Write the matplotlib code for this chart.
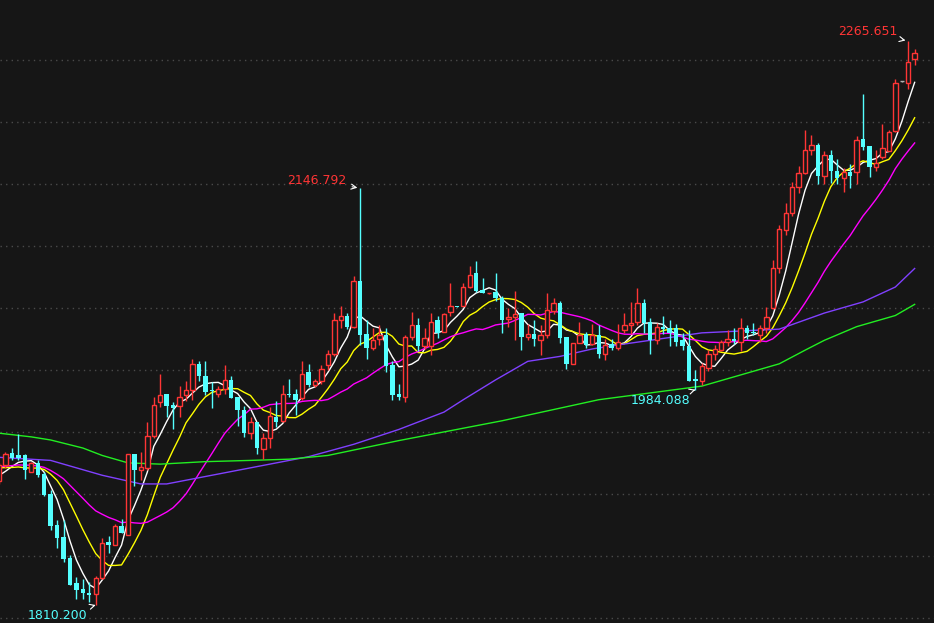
import numpy as np, pandas as pd, matplotlib; matplotlib.use('Agg')
import matplotlib.pyplot as plt

# OHLC, candle 0 = leftmost
opens = [1910,1923,1933,1931,1931,1918,1925,1916,1900,1875,1865,1848,1828,1823,1820,1819,1832,1861,1859,1874,
         1867,1932,1919,1921,1947,1974,1981,1972,1971,1980,1984,2005,1995,1984,1981,1985,1992,1978,1968,1949,
         1958,1936,1945,1962,1959,1980.5,1981,1977,1998,1988,1991,2004,2013,2040,2044,2035,2072,2029,2018,2025,
         2028,2004,1981,1978,2027,2036,2019,2019,2040,2031,2047,2052,2052,2067,2078,2065,2061.8,2063,2058,2041,
         2043,2046,2027,2029,2024,2028,2048,2054,2027,2005,2022,2029,2021,2028,2013,2021,2018,2032,2036,2039,
         2054,2039,2024,2035,2034,2034,2024,2019,1993,1991,2001.3,2013,2016,2023,2025,2023,2034,2031,2028,2034,
         2050,2082,2113,2127,2148,2159,2178,2182,2157,2173.6,2161,2155,2160,2160,2186.5,2181,2163.6,2172,2177,2193,
         2233,2231.5,2251]
highs = [1925,1934,1937,1948,1932,1926,1927,1918,1903,1879,1879,1851,1833,1831,1829,1834,1864,1866,1876,1880,
         1932,1932,1934,1958,1978,1997,1981,1974,1987,1991,2009,2007,2007,1990,1987,2004,1995,1978,1971,1962,
         1958,1949,1970,1975,1988,1993,1985,2007,2005,1993,2004,2016,2046,2052,2046,2076,2146.792,2040,2034,2036,
         2034,2007,1989,2028,2047,2042,2034,2046,2044,2046,2070,2052,2070,2084,2088,2074,2062.5,2078,2060,2050,
         2064,2046,2037,2040,2036,2062,2058,2056,2027,2022,2039,2031,2037,2036,2025,2025,2037,2046,2055,2066,
         2057,2042,2038,2044,2040,2037,2030,2032,2000,2006,2016,2020,2024,2032,2034,2042,2036,2038,2036,2051,
         2089,2117,2135,2152,2165,2194,2190,2183,2177,2178,2170,2163,2166,2189,2223,2181,2178,2199,2194,2235,
         2233.5,2265.651,2259]
lows = [1908,1921,1927,1927,1912,1918,1914,1898,1871,1856,1845,1826,1815,1815,1813,1810.2,1831,1852,1859,1868,
        1867,1906,1911,1919,1945,1970,1962,1952,1962,1975,1976,1991,1980,1969,1978,1981,1977,1955,1946,1944,
        1932,1928,1937,1954,1958,1978,1964,1976,1986,1986,1989,2000,2011,2034,2033,2034,2020,2009,2016,2020,
        1998,1976,1976,1974,2024,2015,2017,2012,2026,2031,2044,2051,2052,2066,2063,2062,2061.5,2056,2030,2035,
        2024,2016,2024,2019,2012,2026,2045,2022,2001,2005,2022,2018,2020,2010,2008,2016,2016,2030,2029,2036,
        2030,2013,2021,2029,2019,2019,2016,1991,1984.088,1988,1999,2008,2015,2019,2021,2015,2025,2028,2023,2030,
        2049,2078,2109,2124,2143,2158,2174,2150,2150,2151,2150,2144,2147,2150,2178,2156,2161,2170,2177,2192,
        2232.5,2227,2246]
closes = [1923,1932,1929,1929,1919,1925,1915,1899,1874,1864,1847,1826,1822,1820,1818,1832,1860,1859,1874,1868,
          1932,1919,1922,1947,1972,1980,1971,1969,1978,1984,2005,1995,1982,1983,1985,1992,1977,1968,1949,1958,
          1937,1945,1963,1958,1981,1980,1976,1997,1988,1991,2001,2013,2040,2044,2035,2072,2028,2018,2024,2028,
          2003,1980,1978,2027,2036,2019,2026,2039,2030,2045,2052,2051,2067,2077,2064,2062,2062,2058,2040,2043,
          2045,2027,2029,2025,2028,2048.5,2054,2026,2005,2022,2028,2020,2028,2013,2020,2018,2023,2036,2038,2054,
          2038,2024,2035,2033,2030,2023,2019,1991.4,1991,2003,2012.7,2017,2023,2025,2023.5,2034,2030,2030,2034,2043,
          2082,2113.5,2127,2148,2159,2178,2181.6,2157,2173.6,2161,2154.7,2160,2157,2186,2180.3,2163.6,2166.8,2179,2192.4,2231.4,
          2233,2249,2255.7]
# closes before the visible window, only used to seed the short averages
pre_closes = [1925,1920,1918,1922,1928,1926,1921,1924,1927,1919,1930,1928,1925,1926,1927,1915,1910,1912,1914]

# long averages (candle index, value)
ma60_idx = [0,8,16,22,26,37,48,55,62,69,72,77,82,87,92,97,109,121,128,134,139,142]
ma60_val = [1929.5,1927,1915,1908,1908,1919,1930,1940,1952,1966,1976,1992,2007,2011,2017,2021,2030,2033,2046,2055,2067,2082]
ma120_idx = [0,5,8,13,16,20,25,32,39,45,51,62,78,93,109,121,125,128,133,139,142]
ma120_val = [1949,1946,1943.5,1937,1931,1925,1924,1926,1927,1928,1931,1943,1959,1976,1987,2005,2016,2024,2035,2044,2053]

BG = '#161616'; UP = '#ff3535'; DN = '#54ffff'; FLAT = '#b0b0b0'
fig = plt.figure(figsize=(9.34, 6.23), dpi=100, facecolor=BG)
ax = fig.add_axes([0, 0, 1, 1]); ax.set_facecolor(BG)

x = np.arange(len(closes))
allc = pd.Series(pre_closes + closes)
n0 = len(pre_closes)
for w, col in [(5, '#ffffff'), (10, '#ffff00'), (20, '#ff00ff')]:
    ma = allc.rolling(w).mean().values[n0:]
    ax.plot(x, ma, color=col, lw=1, zorder=2)
ax.plot(ma60_idx, ma60_val, color='#8040ff', lw=1, zorder=2)
ax.plot(ma120_idx, ma120_val, color='#22ee22', lw=1, zorder=2)

for p in range(1800, 2300, 50):
    ax.axhline(p, color='#4a4a4a', ls=(0, (1, 3)), lw=1, zorder=0)

bw = 0.68
for i, (o, h, l, c) in enumerate(zip(opens, highs, lows, closes)):
    top, bot = max(o, c), min(o, c)
    if c > o:
        ax.vlines(i, top, h, color=UP, lw=1, zorder=3); ax.vlines(i, l, bot, color=UP, lw=1, zorder=3)
        ax.bar(i, top - bot, bw, bot, facecolor=BG, edgecolor=UP, lw=1, zorder=4)
    elif c < o:
        ax.vlines(i, l, h, color=DN, lw=1, zorder=3)
        ax.bar(i, top - bot, bw, bot, color=DN, lw=0, zorder=4)
    else:
        ax.vlines(i, l, h, color=FLAT, lw=1, zorder=3)
        ax.hlines(c, i - bw / 2, i + bw / 2, color=FLAT, lw=1, zorder=4)

ap = dict(arrowstyle='->', color='white', lw=0.8)
ax.annotate('2265.651', xy=(141, 2265.651), xytext=(139.3, 2273), color=UP, fontsize=9,
            ha='right', va='center', arrowprops=ap)
ax.annotate('2146.792', xy=(56, 2146.792), xytext=(53.9, 2153), color=UP, fontsize=9,
            ha='right', va='center', arrowprops=ap)
ax.annotate('1984.088', xy=(108, 1984.088), xytext=(98, 1975.5), color=DN, fontsize=9,
            ha='left', va='center', arrowprops=ap)
ax.annotate('1810.200', xy=(15, 1810.2), xytext=(4.5, 1801.5), color=DN, fontsize=9,
            ha='left', va='center', arrowprops=ap)

ax.set_xlim(0.15, 145); ax.set_ylim(1795.7, 2298.8)
ax.axis('off')
fig.savefig('out.png', dpi=100, facecolor=BG)
